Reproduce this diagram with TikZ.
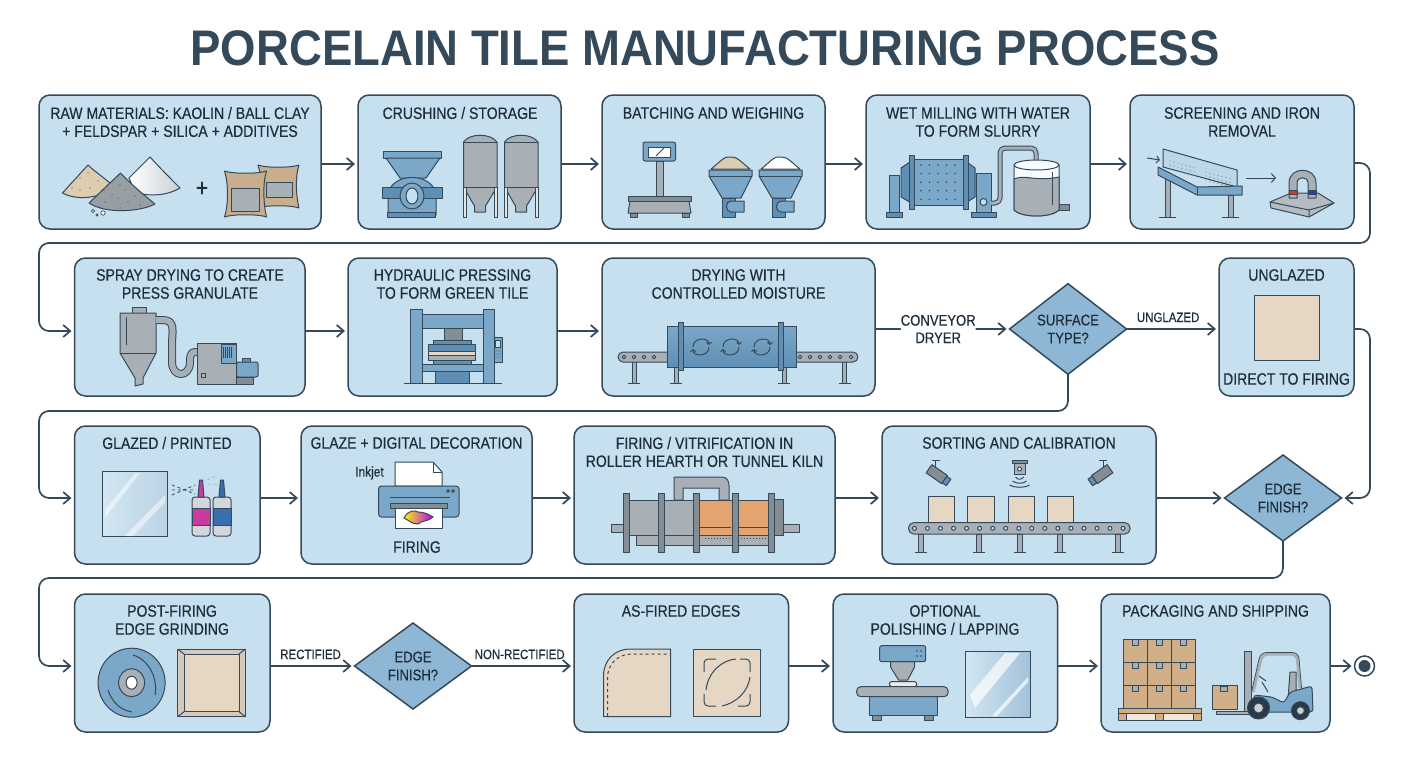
\documentclass[tikz,border=0pt]{standalone}
\usepackage{fontspec}
\setmainfont{Liberation Sans}[FakeStretch=0.85,FakeBold=0.35]
\newfontfamily\titlefont{Liberation Sans Bold}[FakeStretch=0.91]
\usetikzlibrary{arrows.meta,shapes.geometric,fit}
\definecolor{ln}{HTML}{34495A}
\definecolor{boxfill}{HTML}{C7E0F0}
\definecolor{steel}{HTML}{7BA7C9}
\definecolor{steeld}{HTML}{5F8FB5}
\definecolor{gry}{HTML}{A8B0B6}
\definecolor{gryd}{HTML}{858D94}
\definecolor{tile}{HTML}{E6D6C4}
\definecolor{sack}{HTML}{C8AE8C}
\definecolor{sand}{HTML}{DCCDB0}
\definecolor{carton}{HTML}{CFAE88}
\definecolor{kiln}{HTML}{E5A36F}
\definecolor{diam}{HTML}{8DB7D4}
\definecolor{txt}{HTML}{1F2D3A}
\tikzset{
  box/.style={draw=ln,line width=1.5pt,fill=boxfill,rounded corners=11pt,inner sep=0pt,outer sep=0pt},
  dec/.style={diamond,draw=ln,line width=1.5pt,fill=diam,minimum width=117pt,minimum height=86pt,inner sep=0pt,outer sep=0pt,align=center,font=\fontsize{15.4}{18}\selectfont,text=txt},
  ttl/.style={align=center,font=\fontsize{16.5}{18}\selectfont,text=txt,inner sep=0pt},
  lbl/.style={align=center,font=\fontsize{13.5}{16}\selectfont,text=txt,inner sep=0pt},
  flow/.style={draw=ln,line width=1.7pt,-{Straight Barb[length=7pt,width=12pt,line width=1.7pt]},shorten >=3pt,rounded corners=10pt},
  ic/.style={draw=ln,line width=1pt,line join=round},
  thin line/.style={draw=ln,line width=.7pt}
}
\newcommand{\bx}[5]{\path (#2,#3) coordinate (#1a) (#4,#5) coordinate (#1b); \node[box,fit=(#1a)(#1b)] (#1) {};}
\begin{document}
\begin{tikzpicture}[x=1pt,y=-1pt]
\fill[white] (0,0) rectangle (1408,768);
\useasboundingbox (0,0) rectangle (1408,768);
\node[text=ln,inner sep=0pt,font=\titlefont\fontsize{50}{54}\selectfont] (maintitle) at (705,48) {PORCELAIN TILE MANUFACTURING PROCESS};

% ---- boxes
\bx{raw}{39}{95}{321}{229}
\bx{crush}{358}{95}{561}{229}
\bx{batch}{602}{95}{825}{229}
\bx{wet}{866}{95}{1090}{229}
\bx{screen}{1130}{95}{1354}{229}
\bx{spray}{74.5}{258}{305}{396}
\bx{press}{348}{258}{557}{396}
\bx{dry}{602}{258}{875}{396}
\bx{ungl}{1219}{258}{1354}{396}
\bx{glazed}{74.5}{426}{260}{564}
\bx{deco}{301}{426}{532}{564}
\bx{fire}{574}{426}{835}{564}
\bx{sort}{882}{426}{1156}{564}
\bx{grind}{74.5}{594}{270}{732}
\bx{asfired}{574}{594}{788.5}{732}
\bx{polish}{833}{594}{1057.5}{732}
\bx{pack}{1101}{594}{1330}{732}
\node[dec] (surface) at (1068,329) {SURFACE\\TYPE?};
\node[dec] (edgeA) at (1283,498) {EDGE\\FINISH?};
\node[dec] (edgeB) at (413,666) {EDGE\\FINISH?};
\node[circle,draw=ln,line width=1.5pt,minimum size=20pt,inner sep=0pt,outer sep=0pt] (endc) at (1364.5,666) {};
\node[circle,fill=ln,minimum size=12pt,inner sep=0pt] (endd) at (endc) {};

% ---- box titles
\node[ttl] (t1) at (180,122) {RAW MATERIALS: KAOLIN / BALL CLAY\\+ FELDSPAR + SILICA + ADDITIVES};
\node[ttl] (t2) at (460,113) {CRUSHING / STORAGE};
\node[ttl] (t3) at (713.5,113) {BATCHING AND WEIGHING};
\node[ttl] (t4) at (978,122) {WET MILLING WITH WATER\\TO FORM SLURRY};
\node[ttl] (t5) at (1242,122) {SCREENING AND IRON\\REMOVAL};
\node[ttl] (t6) at (190,284) {SPRAY DRYING TO CREATE\\PRESS GRANULATE};
\node[ttl] (t7) at (452.5,284) {HYDRAULIC PRESSING\\TO FORM GREEN TILE};
\node[ttl] (t8) at (738.5,284) {DRYING WITH\\CONTROLLED MOISTURE};
\node[ttl] (t9) at (1286.5,275) {UNGLAZED};
\node[ttl] (t9b) at (1286.5,379) {DIRECT TO FIRING};
\node[ttl] (t10) at (167,443) {GLAZED / PRINTED};
\node[ttl] (t11) at (416.5,443) {GLAZE + DIGITAL DECORATION};
\node[ttl] (t11b) at (417,547) {FIRING};
\node[ttl] (t12) at (704.5,452) {FIRING / VITRIFICATION IN\\ROLLER HEARTH OR TUNNEL KILN};
\node[ttl] (t13) at (1019,443) {SORTING AND CALIBRATION};
\node[ttl] (t14) at (172,620) {POST-FIRING\\EDGE GRINDING};
\node[ttl] (t15) at (681,611) {AS-FIRED EDGES};
\node[ttl] (t16) at (945,620) {OPTIONAL\\POLISHING / LAPPING};
\node[ttl] (t17) at (1215.5,611) {PACKAGING AND SHIPPING};

% ---- connectors
\draw[flow] ([yshift=-2pt]raw.east) -- ([yshift=-2pt]crush.west);
\draw[flow] ([yshift=-2pt]crush.east) -- ([yshift=-2pt]batch.west);
\draw[flow] ([yshift=-2pt]batch.east) -- ([yshift=-2pt]wet.west);
\draw[flow] ([yshift=-2pt]wet.east) -- ([yshift=-2pt]screen.west);
\coordinate (c1a) at (1370,243); \coordinate (c1b) at (39,243);
\draw[flow] ([yshift=-1pt]screen.east) -| (c1a) -- (c1b) |- ([yshift=-4pt]spray.west);
\draw[flow] ([yshift=-4pt]spray.east) -- ([yshift=-4pt]press.west);
\draw[flow] ([yshift=-4pt]press.east) -- ([yshift=-4pt]dry.west);
\draw[flow] ([yshift=-2pt]dry.east) -- node[pos=.47,fill=white,inner xsep=5pt,inner ysep=2pt,ttl,font=\fontsize{15.4}{17.5}\selectfont] (conv) {CONVEYOR\\DRYER} (surface.west);
\draw[flow] (surface.east) -- node[lbl,above=6pt,pos=.45] (lu) {UNGLAZED} ([yshift=-2pt]ungl.west);
\coordinate (c2a) at (1068,411); \coordinate (c2b) at (39,411);
\draw[flow] (surface.south) -- (c2a) -- (c2b) |- ([yshift=-3pt]glazed.west);
\draw[flow] ([yshift=-3pt]glazed.east) -- ([yshift=-3pt]deco.west);
\draw[flow] ([yshift=-3pt]deco.east) -- ([yshift=-3pt]fire.west);
\draw[flow] ([yshift=-3pt]fire.east) -- ([yshift=-3pt]sort.west);
\draw[flow] ([yshift=-3pt]sort.east) -- (edgeA.west);
\coordinate (c3a) at (1370,400);
\draw[flow] ([yshift=-2pt]ungl.east) -| (c3a) |- (edgeA.east);
\coordinate (c4a) at (1283,578); \coordinate (c4b) at (39,578);
\draw[flow] (edgeA.south) -- (c4a) -- (c4b) |- ([yshift=-3pt]grind.west);
\draw[flow] ([yshift=-3pt]grind.east) -- node[lbl,above=6pt,pos=.48] (lr) {RECTIFIED} (edgeB.west);
\draw[flow] (edgeB.east) -- node[lbl,above=6pt,pos=.47] (lnr) {NON-RECTIFIED} ([yshift=-3pt]asfired.west);
\draw[flow] ([yshift=-3pt]asfired.east) -- ([yshift=-3pt]polish.west);
\draw[flow] ([yshift=-3pt]polish.east) -- ([yshift=-3pt]pack.west);
\draw[flow] ([yshift=-3pt]pack.east) -- (endc.west);

% ---- raw materials
\draw[ic,fill=sand] (62.5,193) -- (88,165) .. controls (95,172) and (105,178) .. (113,186) .. controls (100,200) and (75,200) .. cycle;
\shade[left color=white,right color=gry!60!white,draw=ln,line width=1pt] (129,178) -- (150,157) .. controls (160,168) and (172,180) .. (180,188) .. controls (165,197) and (145,196) .. (135,192) -- cycle;
\draw[ic,fill=gry!90!black] (89,203) -- (120.5,173) .. controls (132,185) and (145,196) .. (155,204) .. controls (140,212) and (105,214) .. cycle;
\foreach \a/\b in {72/188,80/178,88/173,90/188,98/181,80/190,104/190,110/183,112/195,120/185,118/198,128/202,105/202,135/196,140/205,100/207,120/208,125/190}
  \fill[ln] (\a,\b) circle[radius=.55];
\draw[thin line,fill=white] (93,211) circle[radius=1.6] (103,213) circle[radius=2.2] (97,215) circle[radius=1.2];
\node[font=\fontsize{25}{25}\selectfont,text=txt,inner sep=0pt] (plus) at (202,189) {+};
\foreach \x/\yy/\w/\h in {258/165/41/43,224.5/171/42/46}{
  \draw[ic,fill=sack] (\x,\yy) .. controls (\x+8,\yy+3) and (\x+\w-8,\yy+3) .. (\x+\w,\yy) .. controls (\x+\w-4,\yy+12) and (\x+\w-3,\yy+\h-12) .. (\x+\w,\yy+\h) .. controls (\x+\w-8,\yy+\h-3) and (\x+8,\yy+\h-3) .. (\x,\yy+\h) .. controls (\x+4,\yy+\h-12) and (\x+4,\yy+12) .. cycle;
}
\draw[ic,fill=gry] (231,188) rectangle (259,211);
\draw[ic,fill=gry] (266,182) rectangle (292,197);

% ---- crusher
\draw[ic,fill=steel] (383,151) rectangle (441,158);
\draw[ic,fill=steel] (386,158) -- (440,158) -- (426,178) -- (400,178) -- cycle;
\draw[ic,fill=steel] (388,215) -- (388,194) .. controls (392,172) and (432,172) .. (436,194) -- (436,215) -- cycle;
\draw[ic,fill=steeld] (382,187) rectangle (442,198);
\draw[ic,fill=steel] (412,196) ellipse[x radius=12,y radius=13];
\draw[ic,fill=boxfill] (412,196) ellipse[x radius=6,y radius=8];
\draw[ic,fill=steeld] (387.5,212) rectangle (435,217);
% silos
\foreach \x in {463.5,504.5}{
  \draw[ic,fill=gry] (\x,142) .. controls (\x+6,133) and (\x+27,133) .. (\x+33.5,142) -- (\x+33.5,187) -- (\x+22,206) -- (\x+22,212) -- (\x+11,212) -- (\x+11,206) -- (\x,187) -- cycle;
  \draw[ic] (\x,142) -- (\x+33.5,142) (\x,187) -- (\x+33.5,187);
  \draw[ic,fill=white!80!gray] (\x,187) rectangle (\x+3,217);
  \draw[ic,fill=white!80!gray] (\x+30.5,187) rectangle (\x+33.5,217);
}

% ---- scale
\draw[ic,fill=gry] (656,161) rectangle (663,197);
\draw[ic,fill=steel,rounded corners=2pt] (643,142) rectangle (675.5,161);
\draw[ic,fill=white] (648,147) rectangle (670,157);
\draw[ic] (656,156) -- (664,148);
\draw[ic,fill=gry] (630,201) -- (689,201) -- (691,213) -- (628,213) -- cycle;
\draw[ic,fill=gryd] (628,196) rectangle (691,201);
\draw[ic,fill=gryd] (630,213) rectangle (637,217);
\draw[ic,fill=gryd] (682,213) rectangle (689,217);
% hoppers
\foreach \x/\col in {709/sand,759/white}{
  \draw[ic,fill=\col] (\x+2,169) .. controls (\x+10,163) and (\x+16,155) .. (\x+21.5,157) .. controls (\x+28,156) and (\x+33,163) .. (\x+41,169) -- cycle;
  \draw[ic,fill=steel] (\x,170) -- (\x+43,170) -- (\x+43,176) -- (\x+32,198) -- (\x+13,198) -- (\x,176) -- cycle;
  \draw[ic] (\x,176) -- (\x+43,176);
  \draw[ic,fill=steeld] (\x+13,198) rectangle (\x+26,217);
  \draw[ic,fill=steel] (\x+22,201) -- (\x+35,201) -- (\x+35,212) -- (\x+22,212) .. controls (\x+16,212) and (\x+16,201) .. (\x+22,201);
}

% ---- ball mill
\draw[ic,fill=steel] (889,175) rectangle (899,213);
\draw[ic,fill=steeld] (886,212) rectangle (902,217);
\draw[ic,fill=steeld] (901,168) -- (913,160) -- (913,204) -- (901,197) -- cycle;
\draw[ic,fill=steel] (976,173) rectangle (991,213);
\draw[ic,fill=steeld] (971,212) rectangle (996,217);
\draw[ic,fill=steeld] (964,160) -- (975,168) -- (975,197) -- (964,204) -- cycle;
\draw[ic,fill=steel] (913,159) rectangle (964,205);
\draw[ic,fill=steeld] (909,155) rectangle (914,209);
\draw[ic,fill=steeld] (963,155) rectangle (968,209);
\foreach \i in {0,...,4}\foreach \j in {0,...,4}
  \fill[ln] (921+\i*8.5,165+\j*8.6) circle[radius=.85];
\draw[ic,fill=boxfill] (983.5,202) circle[radius=3.5];
\draw[ln,line width=5pt,line join=round,rounded corners=5pt] (991,203) -- (1000,203) -- (1000,148) -- (1036,148) -- (1036,160);
\draw[gry,line width=3pt,line join=round,rounded corners=5pt] (991,203) -- (1000,203) -- (1000,148) -- (1036,148) -- (1036,160);
\draw[ic,fill=gryd] (1059,204) rectangle (1069,210);
\draw[ic,fill=white!90!boxfill] (1014,165) -- (1014,210) .. controls (1022,218) and (1051,218) .. (1059,210) -- (1059,165) -- cycle;
\draw[ic,fill=gry] (1014,179) .. controls (1025,174) and (1035,182) .. (1059,177) -- (1059,210) .. controls (1051,218) and (1022,218) .. (1014,210) -- cycle;
\draw[ic,fill=white!90!boxfill] (1036.5,165) ellipse[x radius=22.5,y radius=5];
\draw[ic] (1052,172) -- (1052,205);

% ---- screen and magnet
\draw[ic,fill=boxfill!85!steel] (1163,149) -- (1237,170) -- (1237,187) -- (1163,167) -- cycle;
\foreach \a in {1170,1174,1178,1182,1186,1190,1194}{\foreach \c in {0,4,8}
  \fill[gryd] (\a,161+\c+\a*.28-327.6) circle[radius=.7];}
\foreach \a in {1206,1210,1214,1218,1222,1226,1230}{\foreach \c in {0,4,8}
  \fill[gryd] (\a,172+\c+\a*.28-337.7) circle[radius=.7];}
\draw[ic,fill=gry] (1165,177) rectangle (1170,217);
\draw[ic,fill=gry] (1228,195) rectangle (1233,217);
\draw[ic] (1159,217) -- (1176,217) (1222,217) -- (1239,217);
\draw[ic,fill=steel] (1158,167) -- (1197,187) -- (1242,186) -- (1242,195) -- (1197,195) -- (1158,175) -- cycle;
\draw[ic] (1197,187) -- (1197,195);
\draw[ic,-{Straight Barb[length=3pt,width=7pt]}] (1147,158) -- (1160,160);
\draw[ic,-{Straight Barb[length=4pt,width=9pt]}] (1246,178) -- (1276,178);
\draw[ic,fill=gry!85!white] (1271,208) -- (1270,202) -- (1291,193) -- (1318,193) -- (1334,203) -- (1309,217) -- cycle;
\draw[ic] (1270,202) -- (1309,210) -- (1334,203) (1309,210) -- (1309,217);
\draw[ic,fill=gry] (1289,198) -- (1289,183) .. controls (1289,166) and (1316,166) .. (1316,183) -- (1316,198) -- (1308,198) -- (1308,183) .. controls (1308,176) and (1297,176) .. (1297,183) -- (1297,198) -- cycle;
\draw[ic,fill=red!60!brown] (1289,190) rectangle (1297,194);
\draw[ic,fill=blue!60!gray] (1308,190) rectangle (1316,194);

% ---- spray dryer
\draw[ic,fill=gry] (132,307) rectangle (146,313);
\draw[ic,fill=gry] (120,313) -- (156,313) -- (156,353) -- (143,378) -- (143,384) -- (135,386) -- (135,378) -- (120,353) -- cycle;
\draw[ic] (120,353) -- (156,353) (126,317) -- (126,345);
\draw[ln,line width=8pt,line join=round] (156,320) -- (163,320) .. controls (176,320) and (172,332) .. (172,345) -- (172,362) .. controls (172,378) and (190,378) .. (190,362) .. controls (190,352) and (192,352) .. (198,352);
\draw[gry,line width=6pt,line join=round] (156,320) -- (163,320) .. controls (176,320) and (172,332) .. (172,345) -- (172,362) .. controls (172,378) and (190,378) .. (190,362) .. controls (190,352) and (192,352) .. (198,352);
\draw[ic,fill=gry] (197,343) rectangle (236.5,384);
\draw[ic,fill=steel] (221,344) rectangle (236.5,363);
\foreach \a in {223,225,227,229,231}\draw[ln,line width=.6pt] (\a,347) -- (\a,358);
\draw[ic,fill=steeld] (242,358) rectangle (250,362);
\draw[ic,fill=steel,rounded corners=2pt] (236.5,362) rectangle (258,377);
\draw[ic,fill=gryd] (236.5,377) rectangle (253,384);
\draw[ln,line width=.6pt] (201,373) rectangle (205,377);

% ---- hydraulic press
\draw[ic,fill=steel] (410.6,309) rectangle (422,383);
\draw[ic,fill=steel] (483,309) rectangle (494,383);
\draw[ic,fill=steel] (422,314) rectangle (483,328);
\draw[ic,fill=gryd] (444,328) rectangle (462,340);
\draw[ic,fill=steeld] (433,340) rectangle (471,344);
\draw[ic,fill=steeld] (428.5,344) rectangle (475,351);
\draw[ic,fill=tile] (428.5,351) rectangle (475,355);
\draw[ic,fill=gry] (428.5,355) rectangle (475,360);
\draw[ic,fill=steeld] (433,360) rectangle (471,364);
\draw[ic,fill=steel] (422,364) rectangle (483,371);
\draw[ic,fill=steeld] (435,371) rectangle (469,383);
\draw[ic] (404,383) -- (502,383);
\draw[ic,fill=steel] (494,337) rectangle (502,362);
\draw[ic,fill=boxfill] (495.5,340) rectangle (500.5,347);
\foreach \a in {496,498,500}\foreach \b in {351,354,357}\fill[ln] (\a,\b) circle[radius=.5];

% ---- belt dryer
\foreach \x in {634,676,784,844.5}{
  \draw[ic,fill=gry] (\x-2,360) rectangle (\x+2,383);
  \draw[ic] (\x-6,383) -- (\x+6,383);
}
\draw[ic,fill=gry,rounded corners=5pt] (618,352) rectangle (858,362);
\foreach \x in {624,634,644,654,800,810,820,830,840,851}
  \draw[ic,fill=boxfill] (\x,357) circle[radius=1.8];
\shade[top color=steel,bottom color=steeld,draw=ln,line width=1pt] (667,326) rectangle (796,367);
\draw[ic,fill=steeld] (678,322) rectangle (683,370);
\draw[ic,fill=steeld] (778,322) rectangle (783,370);
\foreach \x in {701,731,762}{
  \draw[ic,-{Straight Barb[length=2pt,width=5pt]}] (\x-8,347) .. controls (\x-8,337) and (\x+8,337) .. (\x+8,345);
  \draw[ic,-{Straight Barb[length=2pt,width=5pt]}] (\x+8,347) .. controls (\x+8,357) and (\x-8,357) .. (\x-8,349);
}

% ---- unglazed tile
\draw[ic,fill=tile] (1254,295) rectangle (1319,360);

% ---- glazed tile, bottles
\shade[left color=boxfill!80!white,right color=steel!50!white,draw=ln,line width=1pt] (102.6,471) rectangle (167,536);
\fill[white,opacity=.5] (105,510) -- (135,473) -- (140,473) -- (105,518) -- cycle;
\fill[white,opacity=.5] (125,536) -- (165,495) -- (165,502) -- (133,536) -- cycle;
\draw[ln,line width=.8pt,dashed] (172,485) -- (195,494) (172,490) -- (195,490) (172,495) -- (195,485);
\definecolor{magb}{HTML}{C83C9E}
\definecolor{blub}{HTML}{3A6EAD}
\foreach \x/\col in {192/magb,213/blub}{
  \draw[ic,fill=gry!50!white,rounded corners=3pt] (\x,497) rectangle (\x+18,536);
  \draw[ic,fill=\col] (\x,508) rectangle (\x+18,525);
  \draw[ic,fill=\col] (\x+6,497) -- (\x+7.5,480) -- (\x+10.5,480) -- (\x+12,497) -- cycle;
}
\draw[steel,line width=.5pt,dashed] (207,480) -- (216,476) (208,484) -- (218,484);

% ---- printer
\node[lbl,font=\fontsize{14}{16}\selectfont] (inkjet) at (369.5,473) {Inkjet};
\draw[ic,fill=white] (395,486) -- (395,462) -- (433,462) -- (442,472) -- (442,486) -- cycle;
\draw[ic] (433,462) -- (433,472) -- (442,472);
\draw[ic,fill=steel,rounded corners=3pt] (378.5,486) rectangle (459,517);
\draw[ic] (390,497) -- (450,497);
\draw[ic,fill=gryd] (390,503) rectangle (447,508);
\draw[ic,fill=white] (395,508) rectangle (442,528);
\draw[ic] (448,491) circle[radius=1.3] (453,491) circle[radius=1.3];
\shade[left color=yellow!90!orange,right color=magenta!70!blue,draw=ln,line width=1pt] (404,518) .. controls (408,510) and (415,510) .. (418,512) .. controls (424,512) and (428,514) .. (433,517) .. controls (428,522) and (422,520) .. (418,524) .. controls (412,524) and (410,521) .. cycle;

% ---- kiln
\draw[ic,fill=gry] (611.5,524) rectangle (629,532);
\draw[ic,fill=gry] (779,524) rectangle (799,532);
\draw[ic,fill=gry] (674,500) -- (674,477) -- (722,477) .. controls (727,477) and (729,481) .. (729,486) -- (729,500) -- (719,500) -- (719,488) -- (683,488) -- (683,500) -- cycle;
\draw[ic,fill=gry] (629,500) rectangle (698,535);
\draw[ic,fill=kiln] (698,500) rectangle (774,535);
\draw[ic] (698,527) -- (731,527) (739,527) -- (772,527);
\draw[ic,fill=gryd] (774.5,499) rectangle (783.5,535);
\draw[ic,fill=gry] (636,535) rectangle (774,545);
\draw[ln,line width=1pt,dotted] (705,538) -- (770,538);
\foreach \x in {626,661.5,696,735,771}
  \draw[ic,fill=gryd] (\x-3,493) rectangle (\x+3,552);

% ---- sorting
\foreach \x in {921,979,1019.6,1060,1117.6}{
  \draw[ic,fill=gry] (\x-2.5,534) rectangle (\x+2.5,552);
  \draw[ic] (\x-6,552) -- (\x+6,552);
}
\foreach \x in {928,967.7,1008,1047.6}
  \draw[ic,fill=tile] (\x,496) rectangle (\x+26.3,522);
\draw[ic,fill=gry,rounded corners=5pt] (908.6,522.7) rectangle (1130,534);
\foreach \i in {0,...,16}
  \draw[ic,fill=boxfill] (914.4+\i*13.04,528.3) circle[radius=2];
\draw[ic] (935.7,460) -- (935.7,468) (931.7,460) -- (939.7,460);
\begin{scope}[shift={(938,475)},rotate=-35]
  \draw[ic,fill=gryd] (-11,-5) rectangle (8,5);
  \draw[ic,fill=steeld] (8,-4) rectangle (13,4);
\end{scope}
\draw[ic] (1103,460) -- (1103,468) (1099,460) -- (1107,460);
\begin{scope}[shift={(1101,475)},rotate=35]
  \draw[ic,fill=gryd] (-8,-5) rectangle (11,5);
  \draw[ic,fill=steeld] (-13,-4) rectangle (-8,4);
\end{scope}
\draw[ic,fill=gryd] (1012,460) rectangle (1027,463);
\draw[ic,fill=gry] (1014,463) -- (1025,463) -- (1025,474) -- (1014,474) -- cycle;
\draw[ic,fill=white] (1019.6,469) circle[radius=2];
\foreach \a/\b in {4/479,7/483,10/487}
  \draw[ic] (1019.6-\a,\b-2) .. controls (1019.6-\a/2,\b+1) and (1019.6+\a/2,\b+1) .. (1019.6+\a,\b-2);

% ---- disc + bevelled tile
\draw[ic,fill=steel] (131.6,682.7) ellipse[x radius=33.5,y radius=34.5];
\draw[ic] (133,655) .. controls (150,660) and (158,680) .. (155,695);
\draw[ic] (108,690) .. controls (112,702) and (120,710) .. (132,712);
\draw[ic,fill=gry] (131.6,682.7) ellipse[x radius=13,y radius=14];
\draw[ic,fill=white] (131.6,682.7) ellipse[x radius=5.5,y radius=6.5];
\draw[ic,fill=tile!85!gray] (177.6,649) rectangle (245.4,716.7);
\draw[ic,fill=tile] (184,654) rectangle (239,711.7);
\draw[ic] (177.6,649) -- (184,654) (245.4,649) -- (239,654) (177.6,716.7) -- (184,711.7) (245.4,716.7) -- (239,711.7);

% ---- as-fired
\draw[ic,fill=tile] (603.5,716.7) -- (603.5,676) .. controls (603.5,660) and (615,649) .. (630,649) -- (670.5,649) -- (670.5,716.7) -- cycle;
\draw[ln,line width=1pt,dashed] (607.5,716) -- (607.5,678) .. controls (607.5,664) and (618,654) .. (632,654) -- (670,654);
\draw[ic,fill=tile] (693,649) rectangle (760,716.7);
\draw[ln,line width=1pt,rounded corners=4pt] (704,672) -- (704,659) -- (716,659) (740,659) -- (750,659) -- (750,672) (750,694) -- (750,706) -- (738,706) (716,706) -- (704,706) -- (704,694);
\draw[ln,line width=1pt] (706,690) .. controls (708,672) and (722,660) .. (736,659) (750,677) .. controls (748,692) and (736,703) .. (722,706);

% ---- polishing
\draw[ic,fill=gry] (890.5,661.7) -- (914.5,661.7) -- (914.5,667) -- (907.7,680) -- (898.6,680) -- (890.5,667) -- cycle;
\draw[ic,fill=steel,rounded corners=2pt] (879.7,645.7) rectangle (925.7,661.7);
\foreach \a/\b in {917/651,921/651,917/656,921/656}\fill[ln] (\a,\b) circle[radius=.8];
\draw[ic,fill=tile!50!white,rounded corners=1.5pt] (889.6,681.7) rectangle (916.7,686.7);
\draw[ic,fill=steel] (869,696.7) rectangle (937,715);
\draw[ic,fill=gryd] (872.5,715) rectangle (881.5,720);
\draw[ic,fill=gryd] (924,715) rectangle (933,720);
\draw[ic,fill=gry,rounded corners=4pt] (856.7,686.7) rectangle (948,696.7);
\shade[left color=boxfill!80!white,right color=steel!70!white,draw=ln,line width=1pt] (965,651.7) rectangle (1030.5,717);
\fill[white,opacity=.7] (970,695) -- (1005,653) -- (1020,653) -- (975,708) -- cycle;
\fill[white,opacity=.7] (992,716) -- (1028,677) -- (1028,682) -- (997,716) -- cycle;

% ---- packaging
\foreach \i in {0,1,2}\foreach \j in {0,1,2}{
  \draw[ic,fill=carton] (1123.5+\i*24,639+\j*23) rectangle (1147.5+\i*24,662+\j*23);
  \draw[ic,fill=gry] (1132.5+\i*24,639.5+\j*23) rectangle (1138.5+\i*24,645.5+\j*23);
}
\draw[ic,fill=carton] (1118.5,708) rectangle (1201,713);
\draw[ic,fill=white!70!carton] (1124,713) rectangle (1196,720);
\draw[ic,fill=carton] (1118.5,713) rectangle (1126,720);
\draw[ic,fill=carton] (1155,713) rectangle (1163,720);
\draw[ic,fill=carton] (1193,713) rectangle (1201,720);
% forklift
\draw[ic,fill=gry] (1244,651.7) rectangle (1251,712);
\draw[ic,fill=gry] (1216,711) rectangle (1250,714);
\draw[ic,fill=carton] (1212.4,685.7) rectangle (1237,709);
\draw[ic,fill=gry] (1220.5,686) rectangle (1227,691);
\draw[gry,line width=3.2pt,rounded corners=6pt] (1253,692) -- (1262,654) -- (1297,654) -- (1300,688);
\draw[ln,line width=.7pt,rounded corners=6pt] (1251.5,692) -- (1260.5,652.5) -- (1298.5,652.5) -- (1301.5,688);
\draw[ic,fill=gry] (1288,700) -- (1290,672) -- (1296,672) -- (1296,692) -- cycle;
\draw[ic] (1262,682) -- (1268,692) (1259,676) -- (1266,681);
\draw[ic,fill=steel,rounded corners=3pt] (1252,712) -- (1254,695) -- (1272,697) -- (1284,703) -- (1290,692) -- (1312,686) -- (1313,712) -- cycle;
\draw[ic,fill=ln!80!black] (1258.5,708) circle[radius=11];
\draw[ic,fill=gry!60!white] (1258.5,708) circle[radius=5];
\draw[ic,fill=ln!80!black] (1300.4,710.7) circle[radius=9];
\draw[ic,fill=gry!60!white] (1300.4,710.7) circle[radius=4];
\end{tikzpicture}
\end{document}
